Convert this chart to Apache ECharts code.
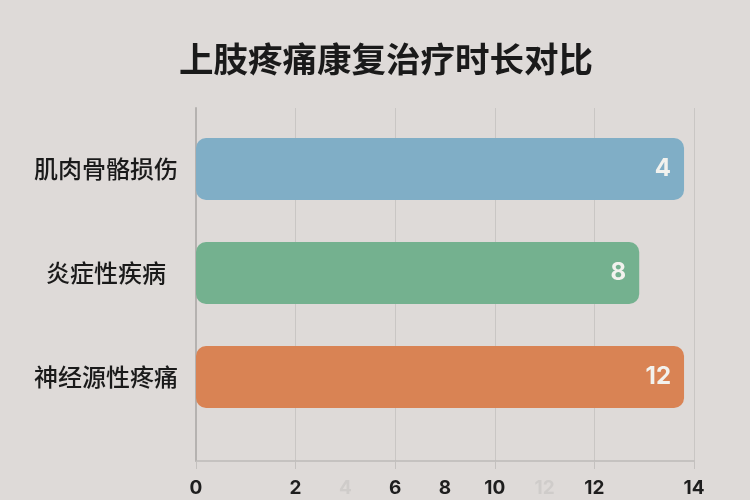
<!DOCTYPE html>
<html>
<head>
<meta charset="utf-8">
<script src="https://cdn.jsdelivr.net/npm/echarts@6/dist/echarts.min.js"></script>
<style>
html,body{margin:0;padding:0;background:#dedad8;}
#c{width:750px;height:500px;}
</style>
</head>
<body>
<div id="c"></div>
<script>
// Data
var title = '上肢疼痛康复治疗时长对比';
var categories = ['肌肉骨骼损伤', '炎症性疾病', '神经源性疼痛'];
// bar lengths read against the axis slots (0..10)
var barValues = [9.8, 8.9, 9.8];
// numbers printed on the bars
var barLabels = ['4', '8', '12'];
// tick labels as printed under each axis slot 0..10
var tickLabels = ['0', '', '2', '4', '6', '8', '10', '12', '12', '', '14'];
var faintTicks = [3, 7];
var colors = ['#80aec6', '#74b18f', '#d98354'];

var FONT = '"Noto Sans CJK SC", "Noto Sans", sans-serif';
var NUMFONT = 'Inter, Roboto, sans-serif';
var chart = echarts.init(document.getElementById('c'));
chart.setOption({
  backgroundColor: '#dedad8',
  animation: false,
  title: {
    text: title,
    left: 174,
    top: 37,
    textStyle: {fontFamily: FONT, fontSize: 34.5, fontWeight: 'bold', color: '#1a1a1a'}
  },
  grid: [
    {left: 196, right: 56, top: 117, bottom: 71},
    {left: 196, right: 56, top: 108, bottom: 39}
  ],
  xAxis: [
    {type: 'value', gridIndex: 0, min: 0, max: 10, show: false},
    {type: 'value', gridIndex: 1, min: 0, max: 10, interval: 2, position: 'bottom',
      axisLine: {show: true, lineStyle: {color: '#bdbab8', width: 1.5}},
      axisTick: {show: true, length: 8, lineStyle: {color: '#c4c1bf'}},
      axisLabel: {show: false},
      splitLine: {show: true, lineStyle: {color: '#c9c6c4', width: 1}}
    },
    {type: 'value', gridIndex: 1, min: 0, max: 10, interval: 1, position: 'bottom',
      axisLine: {show: false}, axisTick: {show: false}, splitLine: {show: false},
      axisLabel: {
        show: true, margin: 18,
        formatter: function (v) {
          var i = Math.round(v);
          var t = tickLabels[i] || '';
          if (!t) return '';
          return faintTicks.indexOf(i) >= 0 ? '{f|' + t + '}' : '{n|' + t + '}';
        },
        rich: {
          n: {fontFamily: NUMFONT, fontSize: 19, fontWeight: 'bold', color: '#1e1e1e'},
          f: {fontFamily: NUMFONT, fontSize: 19, fontWeight: 'bold', color: '#cfccca'}
        }
      }
    }
  ],
  yAxis: [
    {type: 'category', gridIndex: 0, data: categories, inverse: true,
      axisLine: {show: false}, axisTick: {show: false},
      axisLabel: {fontFamily: FONT, fontSize: 24, fontWeight: 500, color: '#1a1a1a', align: 'center', margin: 90}
    },
    {type: 'value', gridIndex: 1, min: 0, max: 1,
      axisLine: {show: true, lineStyle: {color: '#b5b2b0', width: 2}},
      axisTick: {show: false}, axisLabel: {show: false}, splitLine: {show: false}
    }
  ],
  series: [{
    type: 'bar',
    xAxisIndex: 0, yAxisIndex: 0,
    barWidth: 62,
    data: barValues.map(function (v, i) {
      return {value: v, itemStyle: {color: colors[i], borderRadius: 10}};
    }),
    label: {
      show: true, position: 'insideRight', distance: 13,
      formatter: function (p) { return barLabels[p.dataIndex]; },
      fontFamily: NUMFONT, fontSize: 24, fontWeight: 'bold', color: '#f2f2ee'
    }
  }]
});
</script>
</body>
</html>
